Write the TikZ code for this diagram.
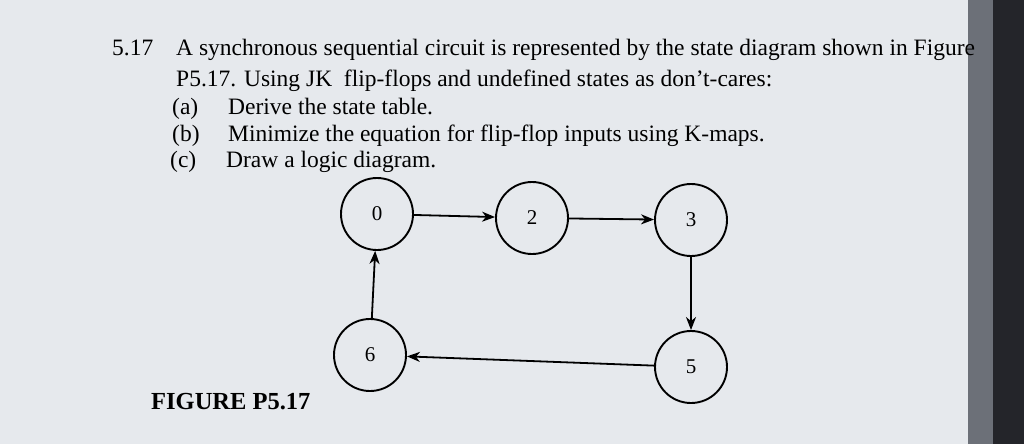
\documentclass[tikz,border=0pt]{standalone}
\usepackage{fontspec}
\setmainfont{Liberation Serif}
\usetikzlibrary{arrows.meta}
\definecolor{paper}{RGB}{230,233,237}
\definecolor{spine}{RGB}{108,112,120}
\definecolor{pageedge}{RGB}{36,37,42}

\begin{document}
\begin{tikzpicture}[x=1pt,y=-1pt,
  state/.style={draw, circle, minimum size=72pt, inner sep=0pt, line width=1.9pt,
    font=\fontsize{21}{21}\selectfont},
  trans/.style={-{Stealth[length=13pt,width=10pt,inset=4pt]}, line width=1.8pt},
  txt/.style={anchor=base west, inner sep=0pt, font=\fontsize{23.5}{23.5}\selectfont}]
  \useasboundingbox (0,0) rectangle (1024,444);
  \fill[paper] (0,0) rectangle (1024,444);
  \fill[spine] (968,0) rectangle (993,444);
  \fill[pageedge] (993,0) rectangle (1024,444);

  % problem text
  \node[txt] (num) at (112,56) {5.17};
  \node[txt] (line1) at (176,56) {A synchronous sequential circuit is represented by the state diagram shown in Figure};
  \node[txt] (line2) at (176,86) {P5.17. Using JK\ \ flip-flops and undefined states as don't-cares:};
  \node[txt] (pa) at (172,114) {(a)};
  \node[txt] (ta) at (228,114) {Derive the state table.};
  \node[txt] (pb) at (172,141) {(b)};
  \node[txt] (tb) at (228,141) {Minimize the equation for flip-flop inputs using K-maps.};
  \node[txt] (pc) at (170,167) {(c)};
  \node[txt] (tc) at (226,167) {Draw a logic diagram.};

  % state diagram
  \node[state] (s0) at (377,214) {0};
  \node[state] (s2) at (532,218) {2};
  \node[state] (s3) at (691,220) {3};
  \node[state] (s5) at (691,367) {5};
  \node[state] (s6) at (370,355) {6};

  \draw[trans] (s0) -- (s2);
  \draw[trans] (s2) -- (s3);
  \draw[trans] (s3) -- (s5);
  \draw[trans] (s5) -- (s6);
  \draw[trans] (s6) -- (s0);

  \node[anchor=base west, inner sep=0pt, font=\bfseries\fontsize{24.5}{24.5}\selectfont] (cap) at (151,409) {FIGURE P5.17};
\end{tikzpicture}
\end{document}
